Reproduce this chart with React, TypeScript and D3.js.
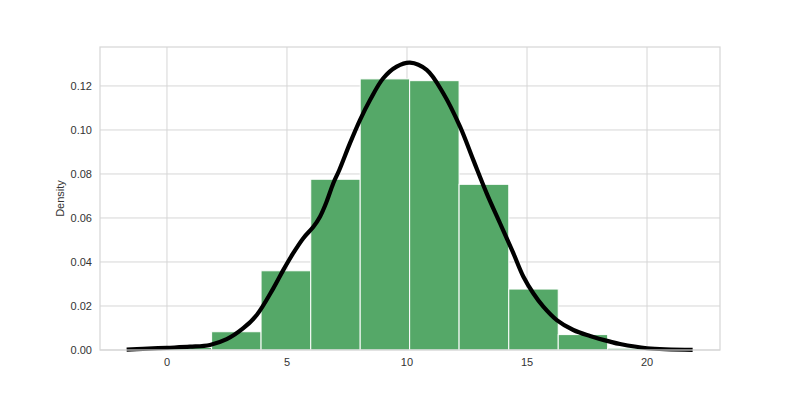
import React from 'react';
import * as d3 from 'd3';

// histogram bins (density)
const binEdges = [-0.2, 1.86, 3.92, 5.99, 8.05, 10.11, 12.17, 14.24, 16.3, 18.36, 20.43];
const binDensity = [0.0012, 0.0083, 0.036, 0.0776, 0.1232, 0.1224, 0.0753, 0.0277, 0.007, 0.0008];

// kde curve
const kdeX = [-1.68, -1.0, 0.0, 0.96, 1.79, 2.49, 3.18, 3.74, 4.43, 4.85, 5.26, 5.68, 6.1, 6.375, 6.65, 6.93, 7.18, 7.625, 8.04, 8.46, 9.01, 9.57, 10.125, 10.82, 11.51, 12.21, 12.76, 13.32, 13.875, 14.43, 14.85, 15.26, 15.68, 16.24, 16.93, 17.625, 18.46, 18.875, 20.0, 21.9];
const kdeY = [0.0002, 0.0005, 0.001, 0.0015, 0.0023, 0.0049, 0.0099, 0.0159, 0.028, 0.0364, 0.044, 0.0508, 0.056, 0.0606, 0.0674, 0.0758, 0.0818, 0.094, 0.1045, 0.1136, 0.1235, 0.1288, 0.1306, 0.1273, 0.1167, 0.1015, 0.0864, 0.0712, 0.0576, 0.044, 0.0333, 0.0258, 0.0197, 0.0136, 0.0091, 0.0064, 0.0038, 0.0027, 0.0008, 0.0001];

const xTicks = [0, 5, 10, 15, 20];
const yTicks = [0, 0.02, 0.04, 0.06, 0.08, 0.1, 0.12];

const width = 800;
const height = 400;
const margin = { top: 47, right: 80, bottom: 50, left: 100 };

export default function App() {
  const x = d3.scaleLinear().domain([-2.79, 23.04]).range([margin.left, width - margin.right]);
  const y = d3.scaleLinear().domain([0, 0.1377]).range([height - margin.bottom, margin.top]);

  const bins = binDensity.map((d, i) => ({ x0: binEdges[i], x1: binEdges[i + 1], d }));
  const kde = kdeX.map((v, i) => [v, kdeY[i]] as [number, number]);

  const line = d3.line<[number, number]>()
    .x(d => x(d[0]))
    .y(d => y(d[1]))
    .curve(d3.curveCatmullRom.alpha(0.5));

  const grid = '#d6d6d6';
  const textColor = '#333333';
  const font = '"Liberation Sans", Arial, sans-serif';

  return (
    <svg width={width} height={height} style={{ position: 'absolute', left: 0, top: 0, background: '#fff' }}>
      {/* grid */}
      <g>
        {xTicks.map(t => (
          <line key={'gx' + t} x1={x(t)} x2={x(t)} y1={y.range()[1]} y2={y.range()[0]} stroke={grid} strokeWidth={1} />
        ))}
        {yTicks.map(t => (
          <line key={'gy' + t} x1={x.range()[0]} x2={x.range()[1]} y1={y(t)} y2={y(t)} stroke={grid} strokeWidth={1} />
        ))}
      </g>

      {/* bars */}
      <g>
        {bins.map((b, i) => (
          <rect
            key={i}
            x={x(b.x0)}
            y={y(b.d)}
            width={x(b.x1) - x(b.x0)}
            height={y(0) - y(b.d)}
            fill="#55a868"
            stroke="#ffffff"
            strokeWidth={1}
          />
        ))}
      </g>

      {/* kde */}
      <path d={line(kde) ?? ''} fill="none" stroke="#000" strokeWidth={4.2} strokeLinejoin="round" />

      {/* spines */}
      <rect
        x={x.range()[0]}
        y={y.range()[1]}
        width={x.range()[1] - x.range()[0]}
        height={y.range()[0] - y.range()[1]}
        fill="none"
        stroke={grid}
        strokeWidth={1.2}
      />

      {/* tick labels */}
      <g fontFamily={font} fontSize={11} fill={textColor}>
        {xTicks.map(t => (
          <text key={'tx' + t} x={x(t)} y={y(0) + 15.5} textAnchor="middle">{t}</text>
        ))}
        {yTicks.map(t => (
          <text key={'ty' + t} x={92} y={y(t)} dy="0.35em" textAnchor="end">{d3.format('.2f')(t)}</text>
        ))}
        <text transform={`translate(64, ${(y.range()[0] + y.range()[1]) / 2}) rotate(-90)`} textAnchor="middle">Density</text>
      </g>
    </svg>
  );
}
